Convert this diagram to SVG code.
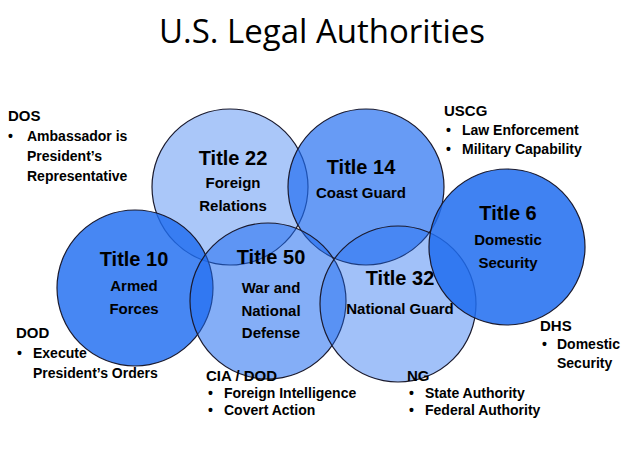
<svg xmlns="http://www.w3.org/2000/svg" width="638" height="463" viewBox="0 0 638 463">
<style>
.c{stroke:#1a1a2e;stroke-width:1.2}
.t{font-family:"Liberation Sans",Arial,sans-serif;font-weight:bold;fill:#000;text-anchor:middle}
.h{font-size:20px}
.s{font-size:15px}
.l{font-family:"Liberation Sans",Arial,sans-serif;font-weight:bold;font-size:14px;fill:#000}
.hd{font-size:15px}
</style>
<rect width="638" height="463" fill="#fff"/>
<text x="322" y="43" font-family="'Open Sans','Liberation Sans',sans-serif" font-size="33" text-anchor="middle" fill="#000">U.S. Legal Authorities</text>
<g id="connectors"/>
<g id="t22"><circle class="c" cx="230" cy="187" r="78" fill="#1f6cf0" fill-opacity="0.38"/>
<text class="t h" x="233" y="165">Title 22</text><text class="t s" x="233" y="188">Foreign</text><text class="t s" x="233" y="211">Relations</text></g>
<g id="t14"><circle class="c" cx="366" cy="187" r="78" fill="#1f6cf0" fill-opacity="0.68"/>
<text class="t h" x="361" y="174">Title 14</text><text class="t s" x="361" y="198">Coast Guard</text></g>
<g id="t10"><circle class="c" cx="135" cy="288" r="78" fill="#1f6cf0" fill-opacity="0.82"/>
<text class="t h" x="134" y="266">Title 10</text><text class="t s" x="134" y="291">Armed</text><text class="t s" x="134" y="314">Forces</text></g>
<g id="t50"><circle class="c" cx="268" cy="301" r="78" fill="#1f6cf0" fill-opacity="0.55"/>
<text class="t h" x="271" y="264">Title 50</text><text class="t s" x="271" y="293">War and</text><text class="t s" x="271" y="316">National</text><text class="t s" x="271" y="338">Defense</text></g>
<g id="t32"><circle class="c" cx="398" cy="304" r="78" fill="#1f6cf0" fill-opacity="0.42"/>
<text class="t h" x="400" y="285">Title 32</text><text class="t s" x="400" y="314">National  Guard</text></g>
<g id="t6"><circle class="c" cx="507" cy="247" r="78" fill="#1f6cf0" fill-opacity="0.85"/>
<text class="t h" x="508" y="220">Title 6</text><text class="t s" x="508" y="245">Domestic</text><text class="t s" x="508" y="268">Security</text></g>
<g id="dos" class="l"><text class="hd" x="8" y="121">DOS</text>
<text x="8" y="141">•</text><text x="27" y="141">Ambassador is</text><text x="27" y="161">President’s</text><text x="27" y="181">Representative</text></g>
<g id="uscg" class="l"><text class="hd" x="444" y="116">USCG</text>
<text x="446" y="135">•</text><text x="462" y="135">Law Enforcement</text><text x="446" y="154">•</text><text x="462" y="154">Military Capability</text></g>
<g id="dod" class="l"><text class="hd" x="16" y="338">DOD</text>
<text x="17" y="358">•</text><text x="33" y="358">Execute</text><text x="33" y="378">President’s Orders</text></g>
<g id="cia" class="l"><text class="hd" x="206" y="381">CIA / DOD</text>
<text x="208" y="398">•</text><text x="224" y="398">Foreign Intelligence</text><text x="208" y="415">•</text><text x="224" y="415">Covert Action</text></g>
<g id="ng" class="l"><text class="hd" x="407" y="381">NG</text>
<text x="409" y="398">•</text><text x="425" y="398">State Authority</text><text x="409" y="415">•</text><text x="425" y="415">Federal Authority</text></g>
<g id="dhs" class="l"><text class="hd" x="540" y="331">DHS</text>
<text x="542" y="349">•</text><text x="557" y="349">Domestic</text><text x="557" y="368">Security</text></g>
</svg>
